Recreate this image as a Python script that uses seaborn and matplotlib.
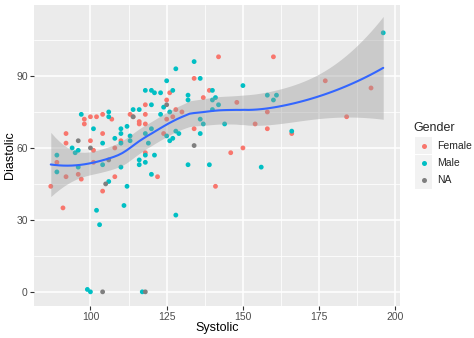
import numpy as np
import pandas as pd
import matplotlib
matplotlib.use("Agg")
import matplotlib.pyplot as plt
import seaborn as sns
from matplotlib.patches import Rectangle
from matplotlib.lines import Line2D

# ---------------- data ----------------
female_sys = [87, 89, 92, 92, 92, 91, 96, 97, 100, 98, 98, 102, 104, 107, 100, 104, 101, 104,
              108, 108, 110, 113, 114, 116, 116, 118, 118, 118, 118, 122, 125, 125, 124, 126,
              128, 130, 127, 134, 139, 137, 142, 134, 148, 154, 158, 158, 160, 166, 177, 184,
              192, 146, 150, 141, 101]
female_dia = [44, 54, 62, 66, 48, 35, 49, 47, 73, 72, 70, 73, 74, 72, 63, 66, 54, 42,
              48, 60, 63, 74, 73, 71, 70, 74, 70, 78, 58, 48, 80, 72, 66, 83,
              76, 75, 73, 89, 84, 81, 98, 68, 79, 70, 75, 68, 98, 66, 88, 73,
              85, 58, 60, 44, 59]

male_sys = [89, 89, 94, 95, 96, 96, 97, 101, 104, 104, 106, 106, 106, 108, 110, 110, 112, 110,
            110, 112, 111, 102, 103, 99, 100, 117, 114, 116, 118, 120, 121, 123, 124, 120,
            125, 128, 127, 132, 126, 123, 120, 118, 113, 113, 119, 125, 126, 127, 128, 129,
            118, 121, 116, 116, 118, 120, 132, 128, 139, 156, 134, 136, 150, 140, 132, 140,
            141, 142, 140, 136, 137, 144, 136, 158, 160, 161, 166, 196]
male_dia = [57, 50, 60, 58, 59, 52, 74, 68, 62, 53, 75, 73, 46, 64, 66, 68, 69, 62,
            52, 44, 36, 34, 28, 1, 0, 0, 76, 76, 84, 84, 83, 83, 77, 78,
            88, 93, 84, 82, 75, 74, 68, 66, 65, 63, 62, 65, 63, 64, 67, 66,
            57, 57, 55, 53, 54, 49, 53, 32, 53, 52, 96, 89, 86, 84, 80, 80,
            81, 78, 76, 72, 70, 70, 66, 82, 80, 82, 67, 108]

na_sys = [96, 100, 106, 105, 104, 118, 114, 125, 134]
na_dia = [63, 60, 55, 45, 0, 0, 73, 78, 61]

genders = ["Female", "Male", "NA"]
colors = ["#F8766D", "#00BFC4", "#7F7F7F"]

df = pd.DataFrame({
    "Systolic": female_sys + male_sys + na_sys,
    "Diastolic": female_dia + male_dia + na_dia,
    "Gender": ["Female"] * len(female_sys) + ["Male"] * len(male_sys) + ["NA"] * len(na_sys),
})


# ---------------- loess (span 0.75, degree 2) with standard errors ----------------
def loess_rows(x, x0s, span=0.75):
    n = len(x)
    q = int(np.floor(n * span))
    rows = []
    for x0 in x0s:
        d = np.abs(x - x0)
        h = np.sort(d)[q - 1]
        u = np.clip(d / h, 0, 1)
        w = (1 - u ** 3) ** 3
        dx = x - x0
        A = np.column_stack([np.ones(n), dx, dx ** 2])
        AtW = A.T * w
        beta_op = np.linalg.solve(AtW @ A, AtW)
        rows.append(beta_op[0])
    return np.array(rows)


xs = df["Systolic"].to_numpy(float)
ys = df["Diastolic"].to_numpy(float)
Lmat = loess_rows(xs, xs)
res = ys - Lmat @ ys
M = np.eye(len(xs)) - Lmat
MtM = M.T @ M
delta1 = np.trace(MtM)
sigma = np.sqrt(np.sum(res ** 2) / delta1)
xg = np.linspace(xs.min(), xs.max(), 80)
Lg = loess_rows(xs, xg)
fit = Lg @ ys
se = sigma * np.sqrt(np.sum(Lg ** 2, axis=1))
tval = 1.977
lo, hi = fit - tval * se, fit + tval * se

# ---------------- figure ----------------
sns.set_style("darkgrid", {"axes.facecolor": "#EBEBEB", "grid.color": "white"})
plt.rcParams["font.family"] = ["Liberation Sans", "DejaVu Sans"]

fig = plt.figure(figsize=(4.74, 3.38), dpi=100)
ax = fig.add_axes([34 / 474, 1 - 305.5 / 338, (400 - 34) / 474, (305.5 - 5) / 338])

sns.scatterplot(data=df, x="Systolic", y="Diastolic", hue="Gender", hue_order=genders,
                palette=dict(zip(genders, colors)), s=12, linewidth=0, legend=False,
                ax=ax, zorder=2)

ax.fill_between(xg, lo, hi, color="#999999", alpha=0.4, lw=0, zorder=3)
ax.plot(xg, fit, color="#3366FF", lw=1.5, zorder=4)

ax.set_xlim(81.5, 201.5)
ax.set_ylim(-5.7, 119.6)
ax.set_xticks([100, 125, 150, 175, 200])
ax.set_yticks([0, 30, 60, 90])
ax.set_xticks([112.5, 137.5, 162.5, 187.5], minor=True)
ax.set_yticks([15, 45, 75, 105], minor=True)
ax.grid(which="major", color="white", lw=1.1)
ax.grid(which="minor", color="white", lw=0.55)
ax.set_axisbelow(True)
for s in ax.spines.values():
    s.set_visible(False)
ax.tick_params(which="major", length=3, width=0.8, color="#333333", labelcolor="#4D4D4D",
               labelsize=7.5, bottom=True, left=True, pad=1.5)
ax.tick_params(which="minor", length=0)

ax.set_xlabel("Systolic", fontsize=9, color="black")
ax.set_ylabel("Diastolic", fontsize=9, color="black")
ax.xaxis.set_label_coords(0.5, -0.055)
ax.yaxis.set_label_coords(-0.049, 0.5)

# ---------------- legend (ggplot style) ----------------
W, H = 474, 338
fig.text(413 / W, 1 - 128 / H, "Gender", fontsize=9, ha="left", va="center")
for i, (g, c) in enumerate(zip(genders, colors)):
    yc = 146 + 17 * i
    fig.add_artist(Rectangle((415 / W, 1 - (yc + 8.5) / H), 17 / W, 17 / H,
                             transform=fig.transFigure, facecolor="#F2F2F2", edgecolor="none"))
    fig.add_artist(Line2D([423.5 / W], [1 - yc / H], transform=fig.transFigure, marker="o",
                          markersize=3.6, markerfacecolor=c, markeredgewidth=0, linestyle="none"))
    fig.text(437 / W, 1 - yc / H, g, fontsize=7.5, ha="left", va="center")

fig.savefig("out.png", dpi=100)
